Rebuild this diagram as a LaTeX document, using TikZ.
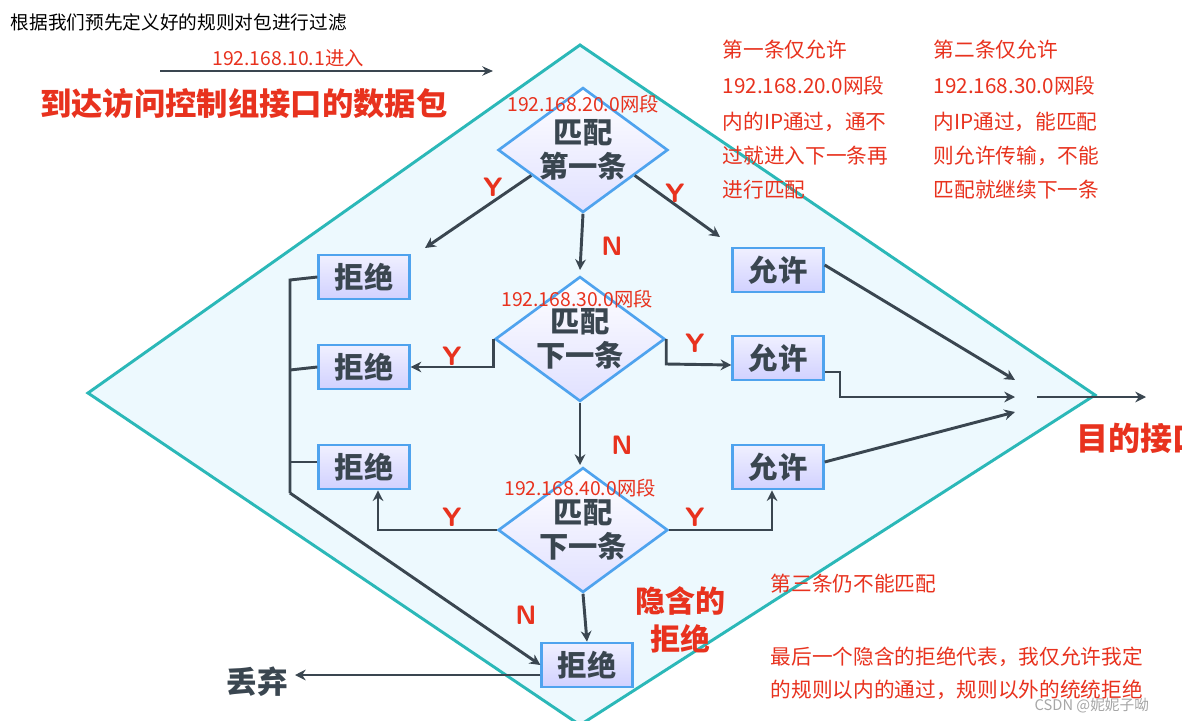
\documentclass[tikz,border=0pt]{standalone}
\usepackage{fontspec}
\setmainfont{Noto Sans CJK SC}
\usetikzlibrary{shapes.geometric,arrows.meta,calc}
\definecolor{redt}{HTML}{E8321E}
\definecolor{dark}{HTML}{3A4650}
\definecolor{teal}{HTML}{2BB8B8}
\definecolor{bluebd}{HTML}{4FA3EE}
\tikzset{
 x=0.75pt,y=-0.75pt,
 dec/.style={diamond,draw=bluebd,line width=2pt,top color=white,bottom color=blue!12,aspect=1.36,inner sep=0pt,minimum width=124pt,minimum height=93pt,font=\fontsize{22}{25}\selectfont\bfseries,text=dark,align=center},
 bx/.style={rectangle,draw=bluebd,line width=2pt,top color=blue!6,bottom color=blue!18,minimum width=68pt,minimum height=33pt,font=\fontsize{22}{24}\selectfont\bfseries,text=dark},
 con/.style={draw=dark,line width=2.2pt,-{Stealth[length=8pt,width=8pt]}},
 ln/.style={draw=dark,line width=2.2pt},
 yn/.style={font=\fontsize{20}{22}\selectfont\bfseries\sffamily,text=redt},
 ip/.style={font=\fontsize{14.5}{16}\selectfont,text=redt},
 note/.style={font=\fontsize{15.5}{17}\selectfont,text=redt,anchor=west},
}
\begin{document}
\begin{tikzpicture}
\useasboundingbox (0,0) rectangle (1182,721);
\clip (0,0) rectangle (1182,721);
\fill[white] (0,0) rectangle (1182,721);
\draw[teal,line width=2.2pt,fill=cyan!7] (580,45) -- (1095,395) -- (580,725) -- (88,393) -- cycle;
\node[anchor=west,font=\fontsize{14}{16}\selectfont] (title) at (6,22) {根据我们预先定义好的规则对包进行过滤};
\node[ip] (in) at (288,58) {192.168.10.1进入};
\coordinate (ina) at (160,71); \coordinate (inb) at (493,71);
\draw[line width=2pt,dark,-{Stealth[length=8pt,width=7pt]}] (ina) -- (inb);
\node[font=\fontsize{23.5}{26}\selectfont\bfseries,text=redt] (pk) at (244,104) {到达访问控制组接口的数据包};
\node[note] (c1a) at (718,50) {第一条仅允许};
\node[note] (c1b) at (718,86) {192.168.20.0网段};
\node[note] (c1c) at (718,122) {内的IP通过，通不};
\node[note] (c1d) at (718,156) {过就进入下一条再};
\node[note] (c1e) at (718,190) {进行匹配};
\node[note] (c2a) at (929,50) {第二条仅允许};
\node[note] (c2b) at (929,86) {192.168.30.0网段};
\node[note] (c2c) at (929,122) {内IP通过，能匹配};
\node[note] (c2d) at (929,156) {则允许传输，不能};
\node[note] (c2e) at (929,190) {匹配就继续下一条};
\node[dec] (d1) at (583,150) {匹配\\第一条};
\node[dec] (d2) at (580,339) {匹配\\下一条};
\node[dec] (d3) at (583,530) {匹配\\下一条};
\node[ip] (ip1) at (583,104) {192.168.20.0网段};
\node[ip] (ip2) at (577,299) {192.168.30.0网段};
\node[ip] (ip3) at (580,488) {192.168.40.0网段};
\node[bx] (r1) at (364,277) {拒绝};
\node[bx] (r2) at (364,367) {拒绝};
\node[bx] (r3) at (364,467) {拒绝};
\node[bx] (a1) at (778,270) {允许};
\node[bx] (a2) at (778,358) {允许};
\node[bx] (a3) at (778,467) {允许};
\node[bx] (r4) at (587,665) {拒绝};
\coordinate (dst1) at (1015,380); \coordinate (dst2) at (1015,397); \coordinate (dst3) at (1015,412);
\coordinate (o1) at (1037,397); \coordinate (o2) at (1146,397);
\coordinate (drop) at (295,675);
\node[font=\fontsize{24}{26}\selectfont\bfseries,text=redt,anchor=west] (dst) at (1072,438) {目的接口};
\node[font=\fontsize{23}{26}\selectfont\bfseries,text=dark] (dq) at (257,682) {丢弃};
\node[font=\fontsize{22.5}{28}\selectfont\bfseries,text=redt,align=center] (yh) at (680,620) {隐含的\\拒绝};
\node[note] (t3) at (766,584) {第三条仍不能匹配};
\node[note] (t4) at (766,657) {最后一个隐含的拒绝代表，我仅允许我定};
\node[note] (t5) at (766,690) {的规则以内的通过，规则以外的统统拒绝};
\node[font=\fontsize{11}{12}\selectfont,text=gray!70,anchor=west] (wm) at (1030,706) {CSDN @妮妮子呦};
% connectors
\draw[con] ($(d1.south)!0.6!(d1.west)$) -- (425,248);
\draw[con] ($(d1.south)!0.6!(d1.east)$) -- (720,237);
\draw[con] (d1.south) -- (580,270);
\draw[con] (d2.west) -- ++(0,28) -- (r2.east);
\draw[con] (d2.east) -- ++(0,25) -- (a2.west |- 365,365);
\draw[con] (d2.south) -- (580,465);
\draw[con] (d3.west) -- (378,530) -- (r3.south -| 378,490);
\draw[con] (d3.east) -- (772,530) -- (a3.south -| 772,490);
\draw[con] (d3.south) -- (r4.north);
\draw[con] (a1.east) ++(0,-5) -- (dst1);
\draw[con] (a2.east) ++(0,14) -- (840,372) -- (840,397) -- (dst2);
\draw[con] (a3.east) ++(0,-5) -- (dst3);
\draw[con] (o1) -- (o2);
\draw[ln] (r1.west) -- (290,280) -- (290,493);
\draw[ln] (r2.west) -- (290,370);
\draw[ln] (r3.west) ++(0,-5) -- (290,462);
\draw[con] (290,493) -- (r4.west);
\draw[con] (r4.west) ++(0,10) -- (drop);
\node[yn] (y1) at (493,187) {Y};
\node[yn] (y2) at (675,193) {Y};
\node[yn] (n1) at (612,246) {N};
\node[yn] (y3) at (452,356) {Y};
\node[yn] (y4) at (695,343) {Y};
\node[yn] (n2) at (622,445) {N};
\node[yn] (y5) at (452,517) {Y};
\node[yn] (y6) at (695,517) {Y};
\node[yn] (n3) at (526,615) {N};
\end{tikzpicture}
\end{document}
